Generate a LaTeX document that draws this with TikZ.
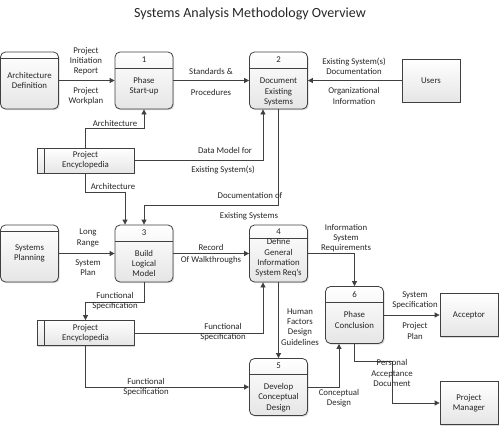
\documentclass[tikz,border=0pt]{standalone}
\usepackage{fontspec}
\setmainfont{Carlito}
\usetikzlibrary{arrows.meta,shadows}
\definecolor{linegray}{HTML}{404040}
\definecolor{textgray}{HTML}{262626}
\tikzset{
  boxfill/.style={top color=white, bottom color=gray!20, drop shadow={opacity=.3, shadow xshift=1.2pt, shadow yshift=-1.2pt}},
  proc/.style={draw=linegray, line width=0.8pt, rounded corners=5pt, minimum width=58pt, minimum height=57pt, inner sep=0pt, align=center, boxfill,
    path picture={\draw[linegray, line width=0.8pt] ([yshift=-#1]path picture bounding box.north west) -- ([yshift=-#1]path picture bounding box.north east);}},
  proc/.default=16pt,
  ext/.style={draw=linegray, line width=0.8pt, minimum width=58pt, minimum height=43pt, inner sep=0pt, align=center, boxfill},
  store/.style={draw=linegray, line width=0.8pt, minimum width=97pt, minimum height=25pt, inner sep=0pt, align=center, boxfill,
    path picture={\draw[linegray, line width=0.8pt] ([xshift=7pt]path picture bounding box.south west) -- ([xshift=7pt]path picture bounding box.north west);}},
  lbl/.style={align=center, inner sep=0pt},
  flow/.style={draw=linegray, line width=0.8pt, -{Triangle[length=5pt,width=5pt]}}
}
\begin{document}
\begin{tikzpicture}[x=1pt, y=-1pt, font=\fontsize{8.8}{10.3}\selectfont, text=textgray]
    \useasboundingbox (0,0) rectangle (500,426);

    % Title
    \node[font=\fontsize{14}{16}\selectfont] (title) at (250,14) {Systems Analysis Methodology Overview};

    % Processes
    \node[proc=6pt] (ad) at (29.5,80.5) {Architecture\\Definition};
    \node[proc=6pt] (sp) at (29.5,253.5) {Systems\\Planning};

    \node[proc] (p1) at (144,80.5) {};
    \node[lbl] (p1n) at ([yshift=-8pt]p1.north) {1};
    \node[lbl] (p1t) at ([yshift=-5.5pt]p1.center) {Phase\\Start-up};

    \node[proc] (p2) at (278.5,80.5) {};
    \node[lbl] (p2n) at ([yshift=-8pt]p2.north) {2};
    \node[lbl] (p2t) at ([yshift=-11.5pt]p2.center) {Document\\Existing\\Systems};

    \node[proc] (p3) at (144,253.5) {};
    \node[lbl] (p3n) at ([yshift=-8pt]p3.north) {3};
    \node[lbl] (p3t) at ([yshift=-10pt]p3.center) {Build\\Logical\\Model};

    \node[proc=13pt] (p4) at (278.5,253.5) {};
    \node[lbl] (p4n) at ([yshift=-7pt]p4.north) {4};
    \node[lbl] (p4t) at ([yshift=-4.5pt]p4.center) {Define\\General\\Information\\System Req's};

    \node[proc] (p6) at (354.5,315) {};
    \node[lbl] (p6n) at ([yshift=-8pt]p6.north) {6};
    \node[lbl] (p6t) at ([yshift=-5pt]p6.center) {Phase\\Conclusion};

    \node[proc] (p5) at (278.5,387) {};
    \node[lbl] (p5n) at ([yshift=-8pt]p5.north) {5};
    \node[lbl] (p5t) at ([yshift=-10.5pt]p5.center) {Develop\\Conceptual\\Design};

    % External entities
    \node[ext] (users) at (431,80.5) {Users};
    \node[ext] (acc) at (469,315) {Acceptor};
    \node[ext] (pm) at (469,403) {Project\\Manager};

    % Data stores
    \node[store] (pe1) at (85.5,160.5) {Project\\Encyclopedia};
    \node[store] (pe2) at (85.5,333) {Project\\Encyclopedia};

    % Phase start-up
    \draw[flow] (ad) -- (p1);
    \node[lbl] (l1a) at (86,61) {Project\\Initiation\\Report};
    \node[lbl] (l1b) at (86,96) {Project\\Workplan};

    \draw[flow] (pe1.north) -- ++(0,-19) -| (p1.south);
    \node[lbl] (l1c) at (115,123) {Architecture};

    % Existing systems
    \draw[flow] (p1) -- (p2);
    \node[lbl] (l2a) at (211,71) {Standards \&};
    \node[lbl] (l2b) at (211,92) {Procedures};

    \draw[flow] (users) -- (p2);
    \node[lbl] (l2c) at (354,66) {Existing System(s)\\Documentation};
    \node[lbl] (l2d) at (354,96) {Organizational\\Information};

    \draw[flow] (pe1.east) -| ([xshift=-15.5pt]p2.south);
    \node[lbl] (l2e) at (225,150) {Data Model for};
    \node[lbl] (l2f) at (223,170) {Existing System(s)};

    % Logical model
    \draw[flow] (pe1.south) -- ++(0,19) -| ([xshift=-19pt]p3.north);
    \node[lbl] (l3a) at (113,186) {Architecture};

    \draw[flow] (p2.south) -- ++(0,96) -| (p3.north);
    \node[lbl] (l3b) at (250,195) {Documentation of};
    \node[lbl] (l3c) at (249,216) {Existing Systems};

    \draw[flow] (sp) -- (p3);
    \node[lbl] (l3d) at (88,238) {Long\\Range};
    \node[lbl] (l3e) at (88,268) {System\\Plan};

    \draw[flow] (p3.south) -- ++(0,20) -| (pe2.north);
    \node[lbl] (l3f) at (115,301) {Functional\\Specification};

    % Requirements
    \draw[flow] (p3) -- (p4);
    \node[lbl] (l4a) at (211,247) {Record};
    \node[lbl] (l4b) at (211,260) {Of Walkthroughs};

    \draw[flow] (pe2.east) -| ([xshift=-15.5pt]p4.south);
    \node[lbl] (l4c) at (223,332) {Functional\\Specification};

    % Conceptual design
    \draw[flow] (p4.south) -- (p5.north);
    \node[lbl] (l5a) at (300,327) {Human\\Factors\\Design\\Guidelines};

    \draw[flow] (pe2.south) |- (p5.west);
    \node[lbl] (l5b) at (146,387) {Functional\\Specification};

    % Phase conclusion
    \draw[flow] (p4.east) -| (p6.north);
    \node[lbl] (l6a) at (346,238) {Information\\System\\Requirements};

    \draw[flow] (p5.east) -| ([xshift=-15.5pt]p6.south);
    \node[lbl] (l6b) at (339,398) {Conceptual\\Design};

    \draw[flow] (p6) -- (acc);
    \node[lbl] (l6c) at (415,300) {System\\Specification};
    \node[lbl] (l6d) at (415,331) {Project\\Plan};

    \draw[flow] (p6.south) |- ++(38,17) |- (pm.west);
    \node[lbl] (l6e) at (392,373) {Personal\\Acceptance\\Document};
\end{tikzpicture}
\end{document}
